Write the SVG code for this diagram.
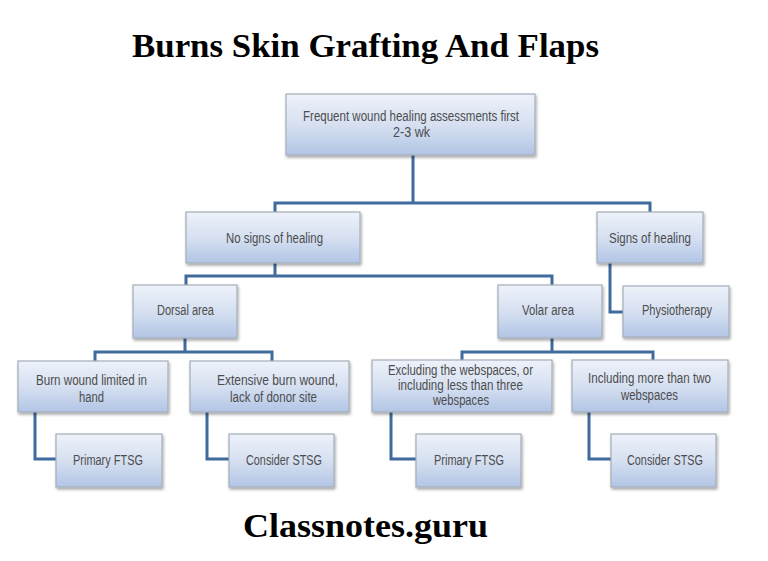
<svg xmlns="http://www.w3.org/2000/svg" width="768" height="561" viewBox="0 0 768 561">
<defs>
<linearGradient id="g" x1="0" y1="0" x2="0" y2="1">
<stop offset="0" stop-color="#eef2fa"/>
<stop offset="0.5" stop-color="#d6e0f1"/>
<stop offset="1" stop-color="#b2c5e5"/>
</linearGradient>
<filter id="sh" x="-10%" y="-10%" width="130%" height="140%">
<feGaussianBlur in="SourceAlpha" stdDeviation="1.5"/>
<feOffset dx="1" dy="2"/>
<feComponentTransfer><feFuncA type="linear" slope="0.35"/></feComponentTransfer>
<feMerge><feMergeNode/><feMergeNode in="SourceGraphic"/></feMerge>
</filter>
</defs>
<style>
.box{fill:url(#g);stroke:#a4adba;stroke-width:1.2;filter:url(#sh)}
.t{font-family:"Liberation Sans",Arial,sans-serif;font-size:14px;fill:#4d4d4d;text-anchor:start}
.c{fill:none;stroke:#3f6b9d;stroke-width:3;stroke-linejoin:miter}
.h{font-family:"Liberation Serif","Times New Roman",serif;font-weight:bold;fill:#000}
</style>
<rect width="768" height="561" fill="#fff"/>
<text class="h" x="132" y="57" font-size="33" textLength="467" lengthAdjust="spacingAndGlyphs">Burns Skin Grafting And Flaps</text>
<g id="connectors">
<path class="c" d="M413 155 V203 M275 212 V203 H650 V212"/>
<path class="c" d="M610 263 V312 H623"/>
<path class="c" d="M275 263 V276 M186 285 V276 H552 V285"/>
<path class="c" d="M185 338 V352 M95 361 V352 H272 V361"/>
<path class="c" d="M552 338 V352 M462 360 V352 H653 V360"/>
<path class="c" d="M35 412 V459 H56"/>
<path class="c" d="M207 412 V459 H229"/>
<path class="c" d="M391 412 V459 H416"/>
<path class="c" d="M589 412 V459 H611"/>
</g>
<g id="n1"><rect class="box" x="286" y="94" width="249" height="61"/>
<text class="t" x="303" y="121" textLength="216" lengthAdjust="spacingAndGlyphs">Frequent wound healing assessments first</text>
<text class="t" x="393" y="137" textLength="37" lengthAdjust="spacingAndGlyphs">2-3 wk</text></g>
<g id="n2"><rect class="box" x="186" y="212" width="174" height="51"/>
<text class="t" x="226" y="243" textLength="97" lengthAdjust="spacingAndGlyphs">No signs of healing</text></g>
<g id="n3"><rect class="box" x="597" y="212" width="106" height="51"/>
<text class="t" x="609" y="243" textLength="82" lengthAdjust="spacingAndGlyphs">Signs of healing</text></g>
<g id="n4"><rect class="box" x="623" y="286" width="106" height="51"/>
<text class="t" x="642" y="315" textLength="70" lengthAdjust="spacingAndGlyphs">Physiotherapy</text></g>
<g id="n5"><rect class="box" x="133" y="285" width="104" height="53"/>
<text class="t" x="157" y="315" textLength="57" lengthAdjust="spacingAndGlyphs">Dorsal area</text></g>
<g id="n6"><rect class="box" x="498" y="285" width="104" height="53"/>
<text class="t" x="522" y="315" textLength="52" lengthAdjust="spacingAndGlyphs">Volar area</text></g>
<g id="n7"><rect class="box" x="18" y="361" width="150" height="51"/>
<text class="t" x="36" y="385" textLength="111" lengthAdjust="spacingAndGlyphs">Burn wound limited in</text>
<text class="t" x="79" y="402" textLength="25" lengthAdjust="spacingAndGlyphs">hand</text></g>
<g id="n8"><rect class="box" x="190" y="361" width="159" height="51"/>
<text class="t" x="217" y="385" textLength="121" lengthAdjust="spacingAndGlyphs">Extensive burn wound,</text>
<text class="t" x="230" y="402" textLength="87" lengthAdjust="spacingAndGlyphs">lack of donor site</text></g>
<g id="n9"><rect class="box" x="372" y="360" width="180" height="52"/>
<text class="t" x="388" y="375" textLength="145" lengthAdjust="spacingAndGlyphs">Excluding the webspaces, or</text>
<text class="t" x="398" y="390" textLength="125" lengthAdjust="spacingAndGlyphs">including less than three</text>
<text class="t" x="433" y="405" textLength="56" lengthAdjust="spacingAndGlyphs">webspaces</text></g>
<g id="n10"><rect class="box" x="572" y="360" width="156" height="52"/>
<text class="t" x="588" y="383" textLength="123" lengthAdjust="spacingAndGlyphs">Including more than two</text>
<text class="t" x="621" y="400" textLength="57" lengthAdjust="spacingAndGlyphs">webspaces</text></g>
<g id="n11"><rect class="box" x="56" y="434" width="106" height="53"/>
<text class="t" x="73" y="465" textLength="70" lengthAdjust="spacingAndGlyphs">Primary FTSG</text></g>
<g id="n12"><rect class="box" x="229" y="434" width="105" height="53"/>
<text class="t" x="246" y="465" textLength="76" lengthAdjust="spacingAndGlyphs">Consider STSG</text></g>
<g id="n13"><rect class="box" x="416" y="434" width="105" height="53"/>
<text class="t" x="434" y="465" textLength="70" lengthAdjust="spacingAndGlyphs">Primary FTSG</text></g>
<g id="n14"><rect class="box" x="611" y="434" width="105" height="53"/>
<text class="t" x="627" y="465" textLength="76" lengthAdjust="spacingAndGlyphs">Consider STSG</text></g>
<text class="h" x="243" y="537" font-size="33" textLength="245" lengthAdjust="spacingAndGlyphs">Classnotes.guru</text>
</svg>
